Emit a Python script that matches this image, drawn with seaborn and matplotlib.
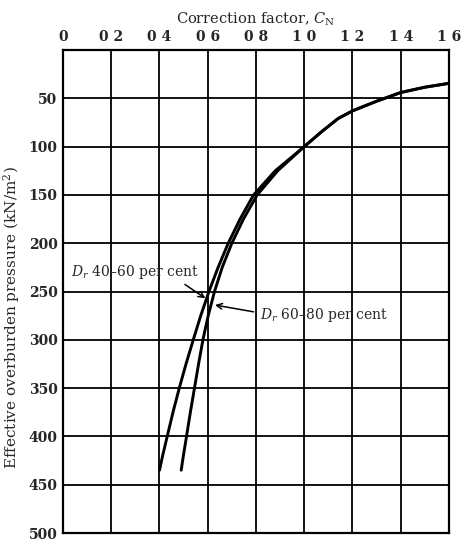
import numpy as np
import pandas as pd
import matplotlib
matplotlib.use('Agg')
import matplotlib.pyplot as plt
import seaborn as sns

# correction factor C_N vs effective overburden pressure
cn_40_60 = [0.40, 0.413, 0.432, 0.456, 0.482, 0.510, 0.540, 0.571, 0.605, 0.643, 0.685,
            0.734, 0.79, 0.88, 1.00, 1.07, 1.14, 1.20, 1.30, 1.40, 1.50, 1.60]
p_40_60 = [435, 420, 400, 375, 350, 325, 300, 275, 250, 225, 200,
           175, 150, 125, 100, 85, 71, 63, 53, 44, 38.5, 34.5]

cn_60_80 = [0.49, 0.499, 0.512, 0.528, 0.545, 0.562, 0.58, 0.602, 0.628, 0.66, 0.70,
            0.748, 0.805, 0.89, 1.00, 1.07, 1.14, 1.20, 1.30, 1.40, 1.50, 1.60]
p_60_80 = [435, 420, 400, 375, 350, 325, 300, 275, 250, 225, 200,
           175, 150, 125, 100, 85, 71, 63, 53, 44, 38.5, 34.5]

x_ticks = [0, 0.2, 0.4, 0.6, 0.8, 1.0, 1.2, 1.4, 1.6]
x_tick_labels = ['0', '0 2', '0 4', '0 6', '0 8', '1 0', '1 2', '1 4', '1 6']
y_ticks = [50, 100, 150, 200, 250, 300, 350, 400, 450, 500]

sns.set_style('white')
plt.rcParams['font.family'] = ['DejaVu Serif']
plt.rcParams['mathtext.fontset'] = 'dejavuserif'

df1 = pd.DataFrame({'CN': cn_40_60, 'p': p_40_60})
df2 = pd.DataFrame({'CN': cn_60_80, 'p': p_60_80})

fig = plt.figure(figsize=(4.74, 5.46), dpi=100)
ax = fig.add_axes([0.1329, 0.0238, 0.8143, 0.8846])

sns.lineplot(data=df1, x='CN', y='p', sort=False, estimator=None, color='black', lw=2.1, ax=ax)
sns.lineplot(data=df2, x='CN', y='p', sort=False, estimator=None, color='black', lw=2.1, ax=ax)

ax.set_xlim(0, 1.6)
ax.set_ylim(500, 0)
ax.set_xticks(x_ticks)
ax.set_xticklabels(x_tick_labels, fontweight='bold', fontsize=10)
ax.set_yticks(y_ticks)
ax.set_yticklabels([str(v) for v in y_ticks], fontweight='bold', fontsize=10)
ax.xaxis.tick_top()
ax.xaxis.set_label_position('top')
ax.tick_params(axis='both', length=0)
ax.tick_params(axis='x', pad=4)
ax.tick_params(axis='y', pad=4)

ax.grid(True, color='black', lw=1.3)
for s in ax.spines.values():
    s.set_visible(True)
    s.set_color('black')
    s.set_linewidth(1.6)

ax.set_xlabel('Correction factor, $C_\\mathrm{N}$', fontsize=10.5, labelpad=5)
ax.set_ylabel('Effective overburden pressure (kN/m$^2$)', fontsize=11)
ax.yaxis.set_label_coords(-0.106, 0.445)

ax.annotate('$D_r$ 40–60 per cent', xy=(0.59, 257), xytext=(0.30, 230),
            ha='center', va='center', fontsize=10,
            arrowprops=dict(arrowstyle='->', color='black', lw=1.1,
                            shrinkA=0, shrinkB=0, relpos=(0.85, 0.0)))
ax.annotate('$D_r$ 60–80 per cent', xy=(0.63, 264), xytext=(1.08, 274),
            ha='center', va='center', fontsize=10,
            arrowprops=dict(arrowstyle='->', color='black', lw=1.1,
                            shrinkA=2, shrinkB=0, relpos=(0.0, 0.6)))

fig.savefig('out.png', dpi=100)
